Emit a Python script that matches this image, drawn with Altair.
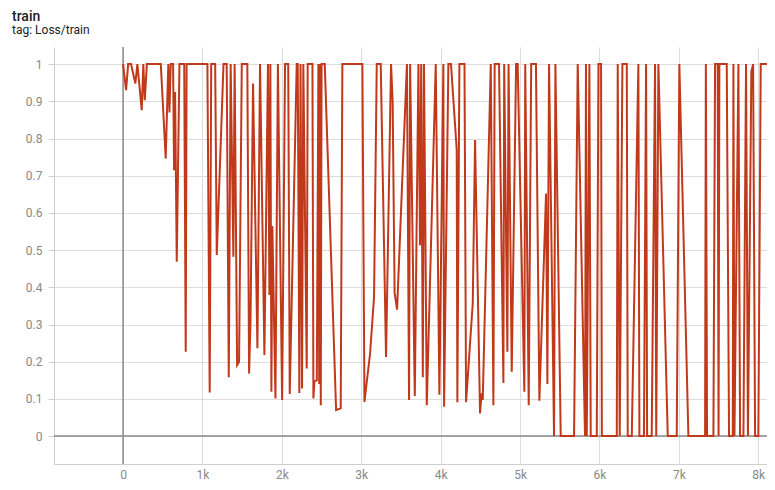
import altair as alt
import pandas as pd

steps = [0, 38, 64, 100, 155, 180, 235, 255, 273, 300, 475, 537, 570, 584, 600, 630, 642, 655, 676, 710,
         770, 789, 800, 1062, 1091, 1110, 1160, 1180, 1265, 1305, 1331, 1355, 1389, 1405, 1436, 1461, 1495,
         1565, 1587, 1605, 1637, 1692, 1725, 1780, 1825, 1843, 1855, 1868, 1880, 1919, 1950,
         2003, 2040, 2080, 2099, 2187, 2200, 2220, 2235, 2254, 2270, 2313, 2325, 2385, 2397, 2410, 2440,
         2460, 2470, 2480, 2490, 2500, 2540, 2683, 2741, 2762, 3014, 3040, 3111, 3161, 3195, 3245, 3312,
         3375, 3395, 3420, 3451, 3575, 3602, 3615, 3674, 3720, 3740, 3755, 3775, 3790, 3825, 3938, 3984,
         4034, 4043, 4097, 4130, 4202, 4210, 4236, 4300, 4320, 4404, 4433, 4496, 4515, 4530, 4631, 4664,
         4680, 4735, 4790, 4800, 4840, 4855, 4895, 4950, 4970, 5054, 5065, 5109, 5140, 5200, 5243, 5327,
         5344, 5365, 5428, 5445, 5512, 5680, 5726, 5818, 5830, 5840, 5873, 5890, 5966, 5987, 6020, 6030,
         6218, 6230, 6255, 6289, 6344, 6356, 6407, 6490, 6503, 6560, 6587, 6600, 6658, 6700, 6715, 6742,
         6860, 6973, 7006, 7120, 7162, 7330, 7340, 7355, 7435, 7456, 7489, 7500, 7510, 7603, 7632, 7679,
         7687, 7700, 7750, 7771, 7813, 7846, 7870, 7913, 7935, 7960, 8001, 8031, 8190, 8205]
values = [1.0, 0.93, 1.0, 1.0, 0.948, 1.0, 0.876, 1.0, 0.903, 1.0, 1.0, 0.746, 1.0, 0.87, 1.0, 1.0, 0.715, 0.925, 0.469, 1.0,
          1.0, 0.227, 1.0, 1.0, 0.117, 1.0, 1.0, 0.487, 1.0, 1.0, 0.158, 1.0, 0.482, 1.0, 0.191, 0.2, 1.0,
          1.0, 0.168, 0.31, 0.948, 0.236, 1.0, 0.218, 1.0, 0.379, 1.0, 0.119, 0.565, 0.101, 1.0,
          0.097, 1.0, 1.0, 0.113, 1.0, 1.0, 0.116, 1.0, 0.128, 1.0, 0.182, 1.0, 1.0, 0.101, 0.147, 0.15,
          1.0, 0.14, 1.0, 0.083, 1.0, 1.0, 0.07, 0.075, 1.0, 1.0, 0.092, 0.222, 0.375, 1.0, 1.0, 0.213,
          1.0, 0.9, 0.385, 0.34, 1.0, 0.097, 1.0, 0.108, 1.0, 0.513, 1.0, 0.158, 1.0, 0.083, 1.0, 0.111,
          1.0, 0.079, 1.0, 1.0, 0.77, 0.091, 1.0, 1.0, 0.091, 0.357, 0.796, 0.061, 0.115, 0.097, 1.0, 0.083,
          1.0, 1.0, 0.143, 1.0, 0.227, 1.0, 0.173, 1.0, 1.0, 0.119, 1.0, 0.083, 1.0, 1.0, 0.095, 0.652,
          0.14, 1.0, 0.0, 1.0, 0.0, 0.0, 1.0, 0.0, 1.0, 0.0, 1.0, 0.0, 0.0, 1.0, 1.0, 0.0,
          0.0, 1.0, 0.0, 1.0, 1.0, 0.0, 0.0, 1.0, 0.0, 0.0, 1.0, 0.0, 0.0, 1.0, 0.0, 1.0,
          0.0, 0.0, 1.0, 0.0, 0.0, 0.0, 1.0, 0.0, 0.0, 1.0, 1.0, 0.0, 1.0, 1.0, 0.0, 0.0,
          1.0, 0.0, 1.0, 0.0, 0.0, 1.0, 0.0, 0.98, 1.0, 0.0, 0.0, 1.0, 1.0, 0.0]

x_ticks = [0, 1000, 2000, 3000, 4000, 5000, 6000, 7000, 8000]
y_ticks = [0, 0.1, 0.2, 0.3, 0.4, 0.5, 0.6, 0.7, 0.8, 0.9, 1.0]

df = pd.DataFrame({"step": steps, "value": values})
zero_df = pd.DataFrame({"z": [0]})

xs = alt.Scale(domain=[-870, 8110], nice=False, zero=False)
ys = alt.Scale(domain=[-0.075, 1.046], nice=False, zero=False)

line = alt.Chart(df).mark_line(color="#c1391b", strokeWidth=2, clip=True).encode(
    x=alt.X("step:Q", scale=xs, axis=alt.Axis(
        values=x_ticks, title=None, grid=True, ticks=False, domain=True, labelPadding=5,
        labelExpr="datum.value == 0 ? '0' : (datum.value / 1000) + 'k'")),
    y=alt.Y("value:Q", scale=ys, axis=alt.Axis(
        values=y_ticks, title=None, grid=True, format=".1~f", tickSize=6, labelPadding=6)),
)

vzero = alt.Chart(zero_df).mark_rule(color="#8a8a8a", strokeWidth=1.5).encode(
    x=alt.X("z:Q", scale=xs))
hzero = alt.Chart(zero_df).mark_rule(color="#8a8a8a", strokeWidth=1.5).encode(
    y=alt.Y("z:Q", scale=ys))

chart = alt.layer(vzero, hzero, line).properties(
    width=713, height=417,
    autosize=alt.AutoSizeParams(type="none"),
    padding={"left": 46, "top": 39, "right": 0, "bottom": 18},
    title=alt.TitleParams("train", subtitle="tag: Loss/train", anchor="start", frame="group",
                          font="Roboto", fontSize=14, fontWeight=500, color="#212121",
                          subtitleFont="Roboto", subtitleFontSize=12, subtitleColor="#212121",
                          subtitlePadding=1, offset=10, dx=-42),
).configure_view(stroke=None).configure_axis(
    gridColor="#dcdcdc", domainColor="#cfcfcf", tickColor="#cfcfcf",
    labelColor="#888888", labelFont="Roboto", labelFontSize=12,
)

chart.save("out.html", embed_options={"renderer": "svg", "actions": False})
